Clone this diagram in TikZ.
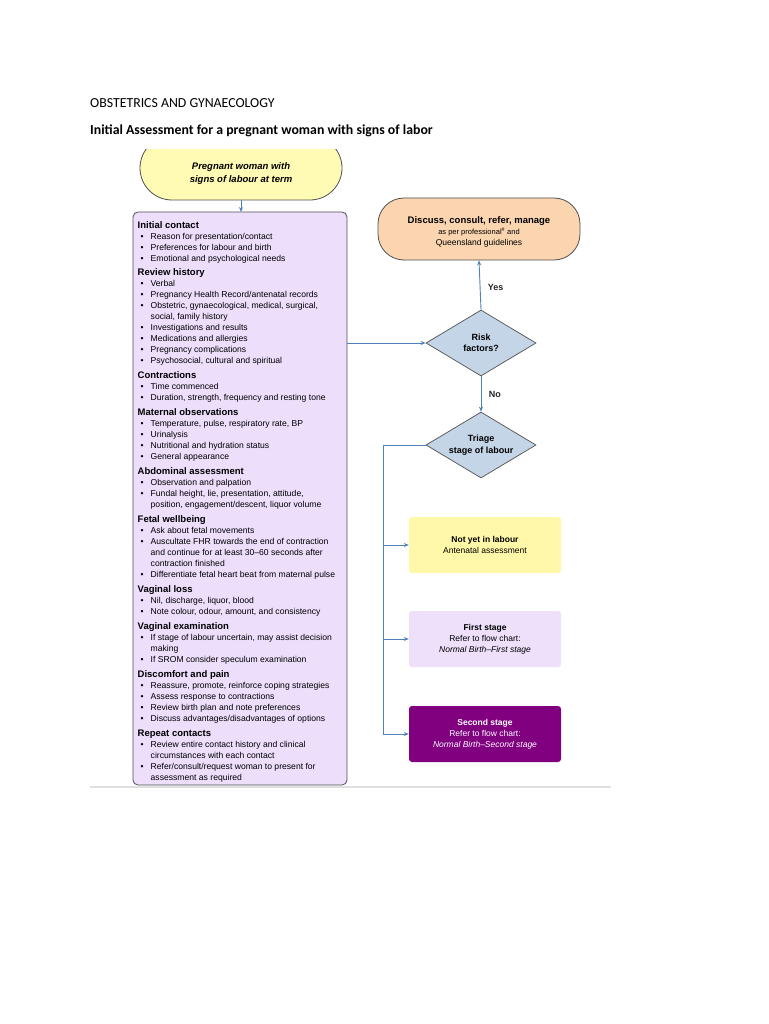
\documentclass[tikz,border=0pt]{standalone}
\usepackage{fontspec}
\setmainfont{Liberation Sans}
\newfontfamily\calibri{Carlito}
\usetikzlibrary{shapes.geometric,arrows.meta}
\definecolor{startyel}{RGB}{255,251,180}
\definecolor{peach}{RGB}{251,213,176}
\definecolor{lav}{RGB}{237,222,252}
\definecolor{diab}{RGB}{197,213,232}
\definecolor{nyl}{RGB}{255,248,168}
\definecolor{fsl}{RGB}{238,224,251}
\definecolor{purp}{RGB}{128,0,128}
\definecolor{arr}{RGB}{79,129,189}
\definecolor{bord}{RGB}{80,80,80}
\newcommand\hdr[1]{{\fontsize{9.5}{11}\selectfont\bfseries #1}}
\newcommand\bul[1]{\makebox[13pt][l]{\hspace{3pt}\textbullet}#1}
\newcommand\cont[1]{\hspace*{13pt}#1}
\begin{document}
\begin{tikzpicture}[x=1pt,y=-1pt,
  flow/.style={-{Stealth[length=5pt,width=4pt]},draw=arr,line width=0.9pt},
  dia/.style={diamond,draw=bord,fill=diab,line width=0.7pt,minimum width=110pt,minimum height=66pt,aspect=1.67,inner sep=0pt,align=center,font=\fontsize{9}{11.5}\selectfont\bfseries},
  rbox/.style={rounded corners=3pt,minimum width=152pt,minimum height=56pt,align=center,font=\fontsize{8.5}{11}\selectfont},
  lbl/.style={font=\fontsize{9}{11}\selectfont\bfseries,text=black!85}]
\useasboundingbox (0,0) rectangle (768,1024);
\fill[white] (0,0) rectangle (768,1024);
% titles
\node[anchor=west,inner sep=0] (t1) at (90,103) {\calibri\fontsize{13.8}{16}\selectfont OBSTETRICS AND GYNAECOLOGY};
\node[anchor=west,inner sep=0] (t2) at (90,131) {\calibri\fontsize{13.8}{16}\selectfont\bfseries Initial Assessment for a pregnant woman with signs of labor};
% start terminal (clipped at top)
\begin{scope}
\clip (100,150) rectangle (400,210);
\draw[draw=bord,fill=startyel,line width=0.8pt,rounded corners=32pt] (140,136) rectangle (342,200);
\end{scope}
\node[align=center,inner sep=0,font=\fontsize{9.5}{13}\selectfont\bfseries\itshape] (start) at (241,174) {Pregnant woman with\\signs of labour at term};
\coordinate (startb) at (241,200);
% big box
\draw[draw=bord,fill=lav,line width=0.8pt,rounded corners=5pt] (133,212) rectangle (347,785);
\coordinate (bigtop) at (241,212);
\coordinate (bigr) at (347,343);
\node[anchor=north west,inner sep=0,align=left,font=\fontsize{8.6}{11}\selectfont] (big) at (137.5,221) {%
\hdr{Initial contact}\\
\bul{Reason for presentation/contact}\\
\bul{Preferences for labour and birth}\\
\bul{Emotional and psychological needs}\\[3.9pt]
\hdr{Review history}\\
\bul{Verbal}\\
\bul{Pregnancy Health Record/antenatal records}\\
\bul{Obstetric, gynaecological, medical, surgical,}\\
\cont{social, family history}\\
\bul{Investigations and results}\\
\bul{Medications and allergies}\\
\bul{Pregnancy complications}\\
\bul{Psychosocial, cultural and spiritual}\\[3.9pt]
\hdr{Contractions}\\
\bul{Time commenced}\\
\bul{Duration, strength, frequency and resting tone}\\[3.9pt]
\hdr{Maternal observations}\\
\bul{Temperature, pulse, respiratory rate, BP}\\
\bul{Urinalysis}\\
\bul{Nutritional and hydration status}\\
\bul{General appearance}\\[3.9pt]
\hdr{Abdominal assessment}\\
\bul{Observation and palpation}\\
\bul{Fundal height, lie, presentation, attitude,}\\
\cont{position, engagement/descent, liquor volume}\\[3.9pt]
\hdr{Fetal wellbeing}\\
\bul{Ask about fetal movements}\\
\bul{Auscultate FHR towards the end of contraction}\\
\cont{and continue for at least 30--60 seconds after}\\
\cont{contraction finished}\\
\bul{Differentiate fetal heart beat from maternal pulse}\\[3.9pt]
\hdr{Vaginal loss}\\
\bul{Nil, discharge, liquor, blood}\\
\bul{Note colour, odour, amount, and consistency}\\[3.9pt]
\hdr{Vaginal examination}\\
\bul{If stage of labour uncertain, may assist decision}\\
\cont{making}\\
\bul{If SROM consider speculum examination}\\[3.9pt]
\hdr{Discomfort and pain}\\
\bul{Reassure, promote, reinforce coping strategies}\\
\bul{Assess response to contractions}\\
\bul{Review birth plan and note preferences}\\
\bul{Discuss advantages/disadvantages of options}\\[3.9pt]
\hdr{Repeat contacts}\\
\bul{Review entire contact history and clinical}\\
\cont{circumstances with each contact}\\
\bul{Refer/consult/request woman to present for}\\
\cont{assessment as required}};
% discuss box
\node[draw=bord,fill=peach,line width=0.8pt,rounded corners=26pt,minimum width=202pt,minimum height=62pt,align=center,inner sep=0] (disc) at (479,229) {};
\node[align=center,inner sep=0] (disctxt) at (479,232) {{\fontsize{9.5}{12}\selectfont\bfseries Discuss, consult, refer, manage}\\[-1pt]{\fontsize{7.5}{10}\selectfont as per professional\textsuperscript{\#} and}\\[-1pt]{\fontsize{8.5}{11}\selectfont Queensland guidelines}};
% diamonds
\node[dia] (risk) at (481,343) {Risk\\factors?};
\node[dia] (triage) at (481,445) {Triage\\stage of labour};
% right boxes
\node[rbox,fill=nyl] (nyl) at (485,545) {\textbf{Not yet in labour}\\Antenatal assessment};
\node[rbox,fill=fsl] (fs) at (485,639) {\textbf{First stage}\\Refer to flow chart:\\\textit{Normal Birth--First stage}};
\node[rbox,fill=purp,text=white] (ss) at (485,734) {\textbf{Second stage}\\Refer to flow chart:\\\textit{Normal Birth--Second stage}};
% connectors
\draw[flow] (startb) -- (bigtop);
\draw[flow] (bigr) -- (risk.west);
\draw[flow] (risk.north) -- node[lbl,right=4pt,pos=0.45] {Yes} (disc.south);
\draw[flow] (risk.south) -- node[lbl,right=4pt,pos=0.5] {No} (triage.north);
\coordinate (jx) at (383,445);
\draw[draw=arr,line width=0.9pt] (triage.west) -- (jx) -- (383,734);
\draw[flow] (383,545) -- (nyl.west);
\draw[flow] (383,639) -- (fs.west);
\draw[flow] (383,734) -- (ss.west);
% separator
\draw[draw=black!12,line width=1.5pt] (90,787) -- (611,787);
\end{tikzpicture}
\end{document}
